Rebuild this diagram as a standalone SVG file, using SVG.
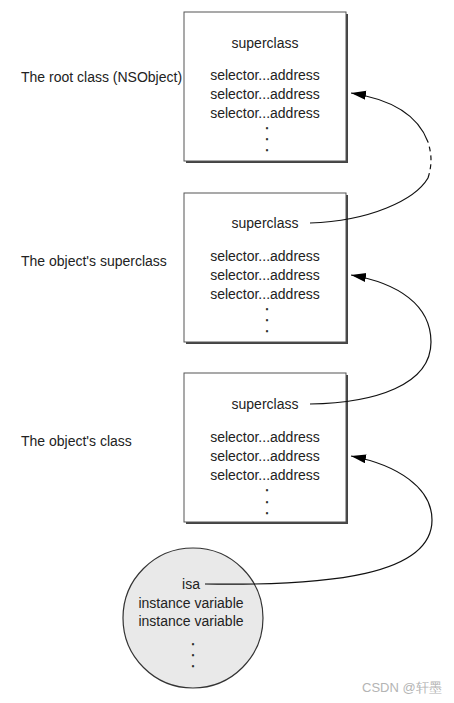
<svg xmlns="http://www.w3.org/2000/svg" width="454" height="703" viewBox="0 0 454 703">
<style>
text{font-family:"Liberation Sans",Arial,sans-serif;font-size:14px;fill:#222}
.c{text-anchor:middle}
.d{font-size:9px;font-weight:bold;stroke:#222;stroke-width:0.6}
.shadow{fill:#444}
.box{fill:#fff;stroke:#555;stroke-width:1}
.conn{fill:none;stroke:#111;stroke-width:1.2}
.dash{stroke-dasharray:5 4}
.wm{font-size:13px;fill:#b4b4b4}
</style>
<defs>
<marker id="ah" markerWidth="16" markerHeight="10" refX="15" refY="4.5" orient="auto" markerUnits="userSpaceOnUse">
<path d="M0,0 L15,4.5 L0,9 z" fill="#000"/>
</marker>
</defs>
<rect width="454" height="703" fill="#fff"/>
<g id="labels">
<text x="21" y="82">The root class (NSObject)</text>
<text x="21" y="266">The object's superclass</text>
<text x="21" y="446">The object's class</text>
</g>
<g id="root-class">
<rect class="shadow" x="186" y="14" width="162" height="149"/>
<rect class="box" x="184" y="12" width="162" height="149"/>
<text class="c" x="265" y="48">superclass</text>
<text class="c" x="265" y="80">selector...address</text>
<text class="c" x="265" y="99">selector...address</text>
<text class="c" x="265" y="118">selector...address</text>
<text class="c d" x="267" y="129">.</text>
<text class="c d" x="267" y="140">.</text>
<text class="c d" x="267" y="151">.</text>
</g>
<g id="superclass">
<rect class="shadow" x="186" y="195" width="162" height="149"/>
<rect class="box" x="184" y="193" width="162" height="149"/>
<text class="c" x="265" y="228">superclass</text>
<text class="c" x="265" y="261">selector...address</text>
<text class="c" x="265" y="280">selector...address</text>
<text class="c" x="265" y="299">selector...address</text>
<text class="c d" x="267" y="310">.</text>
<text class="c d" x="267" y="321">.</text>
<text class="c d" x="267" y="332">.</text>
</g>
<g id="class">
<rect class="shadow" x="186" y="375" width="162" height="149"/>
<rect class="box" x="184" y="373" width="162" height="149"/>
<text class="c" x="265" y="409">superclass</text>
<text class="c" x="265" y="442">selector...address</text>
<text class="c" x="265" y="461">selector...address</text>
<text class="c" x="265" y="480">selector...address</text>
<text class="c d" x="267" y="491">.</text>
<text class="c d" x="267" y="503">.</text>
<text class="c d" x="267" y="514">.</text>
</g>
<g id="object">
<circle cx="193" cy="618" r="70" fill="#e9e9e9" stroke="#333" stroke-width="1.2"/>
<text class="c" x="191" y="589">isa</text>
<text class="c" x="191" y="608">instance variable</text>
<text class="c" x="191" y="626">instance variable</text>
<text class="c d" x="193" y="645">.</text>
<text class="c d" x="193" y="656">.</text>
<text class="c d" x="193" y="667">.</text>
</g>
<g id="connectors">
<path class="conn" d="M310,223 C370,221 415,200 428,178"/>
<path class="conn dash" d="M428,178 C432,165 432,155 428,142"/>
<path class="conn" d="M428,142 C418,115 390,99 351,93" marker-end="url(#ah)"/>
<path class="conn" d="M310,404 C375,403 431,385 431,342 C431,305 398,283 351,275" marker-end="url(#ah)"/>
<path class="conn" d="M205,584 C330,586 432,575 432,520 C432,488 398,465 351,456" marker-end="url(#ah)"/>
</g>
<text class="wm" x="362" y="692">CSDN @轩墨</text>
</svg>
